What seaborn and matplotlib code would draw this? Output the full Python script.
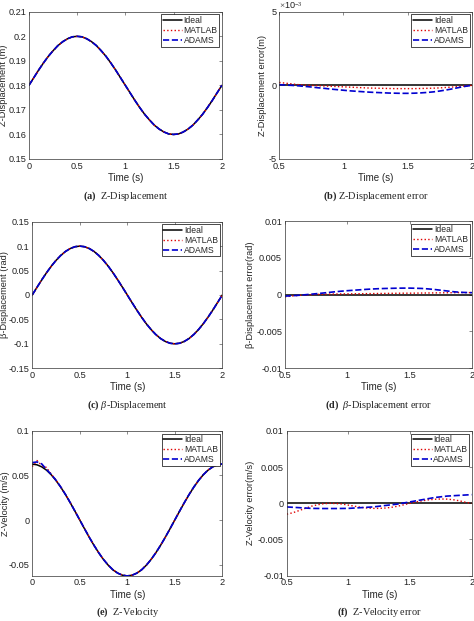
import matplotlib
matplotlib.use("Agg")
import matplotlib.pyplot as plt
import seaborn as sns

# ------------------------------------------------------------------
# data
# ------------------------------------------------------------------
t_full = [0.00, 0.05, 0.10, 0.15, 0.20, 0.25, 0.30, 0.35, 0.40, 0.45,
          0.50, 0.55, 0.60, 0.65, 0.70, 0.75, 0.80, 0.85, 0.90, 0.95,
          1.00, 1.05, 1.10, 1.15, 1.20, 1.25, 1.30, 1.35, 1.40, 1.45,
          1.50, 1.55, 1.60, 1.65, 1.70, 1.75, 1.80, 1.85, 1.90, 1.95, 2.00]

t_err = [0.50, 0.55, 0.60, 0.65, 0.70, 0.75, 0.80, 0.85, 0.90, 0.95,
         1.00, 1.05, 1.10, 1.15, 1.20, 1.25, 1.30, 1.35, 1.40, 1.45,
         1.50, 1.55, 1.60, 1.65, 1.70, 1.75, 1.80, 1.85, 1.90, 1.95, 2.00]

# (a) Z-displacement (m)
z_ideal = [0.1800, 0.1831, 0.1862, 0.1891, 0.1918, 0.1941, 0.1962, 0.1978, 0.1990, 0.1998,
           0.2000, 0.1998, 0.1990, 0.1978, 0.1962, 0.1941, 0.1918, 0.1891, 0.1862, 0.1831,
           0.1800, 0.1769, 0.1738, 0.1709, 0.1682, 0.1659, 0.1638, 0.1622, 0.1610, 0.1602,
           0.1600, 0.1602, 0.1610, 0.1622, 0.1638, 0.1659, 0.1682, 0.1709, 0.1738, 0.1769, 0.1800]
z_matlab = list(z_ideal)
z_adams = list(z_ideal)

# (c) beta-displacement (rad)
b_ideal = [0.0000, 0.0156, 0.0309, 0.0454, 0.0588, 0.0707, 0.0809, 0.0891, 0.0951, 0.0988,
           0.1000, 0.0988, 0.0951, 0.0891, 0.0809, 0.0707, 0.0588, 0.0454, 0.0309, 0.0156,
           0.0000, -0.0156, -0.0309, -0.0454, -0.0588, -0.0707, -0.0809, -0.0891, -0.0951, -0.0988,
           -0.1000, -0.0988, -0.0951, -0.0891, -0.0809, -0.0707, -0.0588, -0.0454, -0.0309, -0.0156, 0.0000]
b_matlab = list(b_ideal)
b_adams = list(b_ideal)

# (e) Z-velocity (m/s)
v_ideal = [0.0628, 0.0620, 0.0597, 0.0560, 0.0508, 0.0444, 0.0369, 0.0285, 0.0194, 0.0098,
           0.0000, -0.0098, -0.0194, -0.0285, -0.0369, -0.0444, -0.0508, -0.0560, -0.0597, -0.0620,
           -0.0628, -0.0620, -0.0597, -0.0560, -0.0508, -0.0444, -0.0369, -0.0285, -0.0194, -0.0098,
           0.0000, 0.0098, 0.0194, 0.0285, 0.0369, 0.0444, 0.0508, 0.0560, 0.0597, 0.0620, 0.0628]
v_matlab = [0.0600, 0.0668, 0.0612, 0.0590, 0.0515, 0.0448, 0.0372, 0.0288, 0.0196, 0.0099,
            0.0002, -0.0096, -0.0192, -0.0284, -0.0368, -0.0443, -0.0507, -0.0559, -0.0596, -0.0619,
            -0.0627, -0.0619, -0.0596, -0.0559, -0.0507, -0.0443, -0.0368, -0.0284, -0.0193, -0.0097,
            0.0001, 0.0099, 0.0195, 0.0286, 0.0370, 0.0445, 0.0509, 0.0561, 0.0598, 0.0621, 0.0628]
v_adams = [0.0645, 0.0652, 0.0630, 0.0568, 0.0512, 0.0447, 0.0371, 0.0287, 0.0195, 0.0099,
           0.0001, -0.0097, -0.0193, -0.0284, -0.0368, -0.0443, -0.0507, -0.0560, -0.0597, -0.0620,
           -0.0628, -0.0620, -0.0597, -0.0560, -0.0508, -0.0444, -0.0369, -0.0285, -0.0194, -0.0098,
           0.0001, 0.0099, 0.0195, 0.0286, 0.0370, 0.0445, 0.0509, 0.0561, 0.0598, 0.0621, 0.0630]

# (b) Z-displacement error (m)
ze_ideal = [0.0] * 31
ze_matlab = [0.20e-3, 0.15e-3, 0.10e-3, 0.05e-3, 0.02e-3, 0.00e-3, -0.02e-3, -0.04e-3, -0.06e-3, -0.08e-3,
             -0.10e-3, -0.12e-3, -0.14e-3, -0.16e-3, -0.18e-3, -0.19e-3, -0.20e-3, -0.21e-3, -0.22e-3, -0.22e-3,
             -0.22e-3, -0.22e-3, -0.21e-3, -0.20e-3, -0.19e-3, -0.17e-3, -0.14e-3, -0.11e-3, -0.07e-3, -0.03e-3, 0.0]
ze_adams = [0.05e-3, 0.02e-3, 0.00e-3, -0.03e-3, -0.07e-3, -0.11e-3, -0.16e-3, -0.20e-3, -0.25e-3, -0.29e-3,
            -0.33e-3, -0.37e-3, -0.40e-3, -0.43e-3, -0.46e-3, -0.48e-3, -0.50e-3, -0.52e-3, -0.53e-3, -0.54e-3,
            -0.54e-3, -0.53e-3, -0.51e-3, -0.48e-3, -0.44e-3, -0.38e-3, -0.31e-3, -0.23e-3, -0.14e-3, -0.06e-3, 0.0]

# (d) beta-displacement error (rad)
be_ideal = [0.0] * 31
be_matlab = [-0.00030, -0.00020, -0.00012, -0.00005, 0.00000, 0.00003, 0.00005, 0.00007, 0.00009, 0.00010,
             0.00011, 0.00012, 0.00013, 0.00014, 0.00015, 0.00016, 0.00017, 0.00018, 0.00019, 0.00020,
             0.00020, 0.00021, 0.00022, 0.00023, 0.00024, 0.00025, 0.00026, 0.00027, 0.00028, 0.00028, 0.00028]
be_adams = [-0.00020, -0.00015, -0.00010, -0.00003, 0.00005, 0.00013, 0.00021, 0.00030, 0.00039, 0.00047,
            0.00054, 0.00060, 0.00066, 0.00072, 0.00077, 0.00081, 0.00084, 0.00086, 0.00088, 0.00089,
            0.00089, 0.00087, 0.00084, 0.00078, 0.00070, 0.00060, 0.00050, 0.00040, 0.00033, 0.00029, 0.00027]

# (f) Z-velocity error (m/s)
ve_ideal = [0.0] * 31
ve_matlab = [-0.00150, -0.00130, -0.00100, -0.00070, -0.00040, -0.00020, -0.00005, 0.00000, -0.00003, -0.00010,
             -0.00025, -0.00040, -0.00055, -0.00065, -0.00070, -0.00070, -0.00065, -0.00055, -0.00040, -0.00020,
             0.00000, 0.00020, 0.00035, 0.00048, 0.00056, 0.00060, 0.00058, 0.00050, 0.00035, 0.00015, 0.00000]
ve_adams = [-0.00050, -0.00055, -0.00060, -0.00065, -0.00070, -0.00071, -0.00072, -0.00072, -0.00072, -0.00071,
            -0.00070, -0.00065, -0.00060, -0.00055, -0.00050, -0.00040, -0.00030, -0.00020, -0.00010, 0.00005,
            0.00020, 0.00035, 0.00050, 0.00065, 0.00080, 0.00090, 0.00100, 0.00105, 0.00110, 0.00115, 0.00120]

# tick labels (MATLAB style, no trailing zeros)
xt_full = [0, 0.5, 1, 1.5, 2]
xt_full_lab = ["0", "0.5", "1", "1.5", "2"]
xt_err = [0.5, 1, 1.5, 2]
xt_err_lab = ["0.5", "1", "1.5", "2"]
yt_a = [0.15, 0.16, 0.17, 0.18, 0.19, 0.20, 0.21]
yt_a_lab = ["0.15", "0.16", "0.17", "0.18", "0.19", "0.2", "0.21"]
yt_b = [-5e-3, 0, 5e-3]
yt_b_lab = ["-5", "0", "5"]
yt_c = [-0.15, -0.10, -0.05, 0, 0.05, 0.10, 0.15]
yt_c_lab = ["-0.15", "-0.1", "-0.05", "0", "0.05", "0.1", "0.15"]
yt_e = [-0.05, 0, 0.05, 0.1]
yt_e_lab = ["-0.05", "0", "0.05", "0.1"]
yt_err = [-0.01, -0.005, 0, 0.005, 0.01]
yt_err_lab = ["-0.01", "-0.005", "0", "0.005", "0.01"]

series_names = ["Ideal", "MATLAB", "ADAMS"]

# ------------------------------------------------------------------
# style
# ------------------------------------------------------------------
sns.set_style("white", {"xtick.direction": "in", "ytick.direction": "in",
                        "axes.edgecolor": "#333333"})
plt.rcParams["font.family"] = ["Liberation Sans", "DejaVu Sans"]
plt.rcParams["mathtext.fontset"] = "custom"
plt.rcParams["mathtext.rm"] = "Liberation Serif"
plt.rcParams["mathtext.it"] = "Liberation Serif:italic"
plt.rcParams["mathtext.bf"] = "Liberation Serif:bold"

styles = [dict(color="black", linestyle="-", linewidth=1.1),
          dict(color="#e00000", linestyle=":", linewidth=1.0),
          dict(color="#0000d0", linestyle="--", linewidth=1.2)]

TICK_FS = 6.6
LABEL_FS = 7.0
YLAB_FS = 6.7
LEG_FS = 6.2
CAP_FS = 7.4


def draw_panel(ax, t, ys, xlim, ylim, xt, xtl, yt, ytl, ylabel, ylab_x, caption):
    for y, name, st in zip(ys, series_names, styles):
        sns.lineplot(x=t, y=y, ax=ax, label=name, estimator=None, sort=False, **st)
    ax.set_xlim(*xlim)
    ax.set_ylim(*ylim)
    ax.set_xticks(xt)
    ax.set_xticklabels(xtl)
    ax.set_yticks(yt)
    ax.set_yticklabels(ytl)
    ax.tick_params(which="both", direction="in", top=True, right=True,
                   length=2, width=0.4, labelsize=TICK_FS, pad=2, colors="#333333",
                   labelcolor="#222222")
    for sp in ax.spines.values():
        sp.set_linewidth(0.5)
    ax.set_xlabel("Time (s)", fontsize=LABEL_FS, labelpad=1.5)
    ax.set_ylabel(ylabel, fontsize=YLAB_FS)
    ax.yaxis.set_label_coords(ylab_x, 0.5)
    leg = ax.legend(loc="upper right", fontsize=LEG_FS, frameon=True, fancybox=False,
                    edgecolor="black", framealpha=1, handlelength=2.2,
                    borderpad=0.2, labelspacing=0.1, handletextpad=0.2,
                    borderaxespad=0.3)
    leg.get_frame().set_linewidth(0.5)
    pos = ax.get_position()
    ax.figure.text((pos.x0 + pos.x1) / 2, pos.y0 - 0.0595, caption,
                   ha="center", va="center", fontsize=CAP_FS, family="Liberation Serif")


fig = plt.figure(figsize=(4.74, 6.21), dpi=100)

ax_a = fig.add_axes([0.061, 0.744, 0.407, 0.237])
ax_b = fig.add_axes([0.589, 0.744, 0.407, 0.237])
ax_c = fig.add_axes([0.068, 0.407, 0.401, 0.236])
ax_d = fig.add_axes([0.601, 0.407, 0.395, 0.237])
ax_e = fig.add_axes([0.068, 0.073, 0.401, 0.233])
ax_f = fig.add_axes([0.605, 0.073, 0.390, 0.233])

draw_panel(ax_a, t_full, [z_ideal, z_matlab, z_adams], (0, 2), (0.15, 0.21),
           xt_full, xt_full_lab, yt_a, yt_a_lab, "Z-Displacement (m)", -0.106,
           r"$\mathbf{(a)}$  Z-Displacement")
draw_panel(ax_b, t_err, [ze_ideal, ze_matlab, ze_adams], (0.5, 2), (-5e-3, 5e-3),
           xt_err, xt_err_lab, yt_b, yt_b_lab, "Z-Displacement error(m)", -0.065,
           r"$\mathbf{(b)}$ Z-Displacement error")
ax_b.text(0.0, 1.005, r"$\times$10$^{-3}$", transform=ax_b.transAxes,
          fontsize=TICK_FS, ha="left", va="bottom", color="#222222",
          family="Liberation Sans")
draw_panel(ax_c, t_full, [b_ideal, b_matlab, b_adams], (0, 2), (-0.15, 0.15),
           xt_full, xt_full_lab, yt_c, yt_c_lab, "β-Displacement (rad)", -0.12,
           r"$\mathbf{(c)}$ $\it{β}$-Displacement")
draw_panel(ax_d, t_err, [be_ideal, be_matlab, be_adams], (0.5, 2), (-0.01, 0.01),
           xt_err, xt_err_lab, yt_err, yt_err_lab, "β-Displacement error(rad)", -0.16,
           r"$\mathbf{(d)}$  $\it{β}$-Displacement error")
draw_panel(ax_e, t_full, [v_ideal, v_matlab, v_adams], (0, 2), (-0.0625, 0.1),
           xt_full, xt_full_lab, yt_e, yt_e_lab, "Z-Velocity (m/s)", -0.118,
           r"$\mathbf{(e)}$  Z-Velocity")
draw_panel(ax_f, t_err, [ve_ideal, ve_matlab, ve_adams], (0.5, 2), (-0.01, 0.01),
           xt_err, xt_err_lab, yt_err, yt_err_lab, "Z-Velocity error(m/s)", -0.17,
           r"$\mathbf{(f)}$  Z-Velocity error")

fig.savefig("out.png", dpi=100)
